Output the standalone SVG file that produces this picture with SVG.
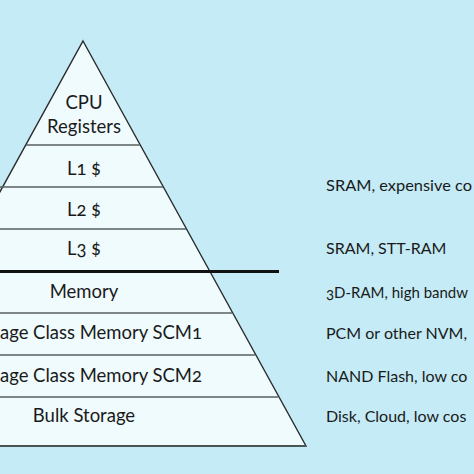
<svg xmlns="http://www.w3.org/2000/svg" width="474" height="474" viewBox="0 0 474 474">
<style>
  .bg { fill: #c4ebf6; }
  .pyr { fill: #effbfd; stroke: #2a2a2a; stroke-width: 1.4; }
  .sep { stroke: #5a5f60; stroke-width: 1.6; fill: none; }
  .thick { stroke: #111; stroke-width: 3; fill: none; }
  .base { stroke: #4a5555; stroke-width: 2.2; fill: none; }
  .lbl { font-family: Lato, "Open Sans", "Noto Sans", sans-serif; font-size: 18.5px; fill: #1a1a1a; text-anchor: middle; font-variant-numeric: oldstyle-nums; }
  .lbll { font-family: Lato, "Open Sans", "Noto Sans", sans-serif; font-size: 18.5px; fill: #1a1a1a; font-variant-numeric: oldstyle-nums; }
  .note { font-family: Lato, "Open Sans", "Noto Sans", sans-serif; font-size: 16px; fill: #1a1a1a; font-variant-numeric: oldstyle-nums; }
</style>
<rect class="bg" x="0" y="0" width="474" height="474"/>
<polygon class="pyr" points="83,41 306,446 -140,446"/>
<g id="cpu-registers">
  <text class="lbl" x="84" y="109">CPU</text>
  <text class="lbl" x="84" y="133">Registers</text>
</g>
<g id="l1">
  <line class="sep" x1="26" y1="145" x2="140" y2="145"/>
  <text class="lbl" x="84" y="175">L1 $</text>
</g>
<g id="l2">
  <line class="sep" x1="0" y1="187" x2="163" y2="187"/>
  <text class="lbl" x="84" y="216">L2 $</text>
</g>
<g id="l3">
  <line class="sep" x1="0" y1="229" x2="186" y2="229"/>
  <text class="lbl" x="84" y="255">L3 $</text>
</g>
<g id="memory">
  <text class="lbl" x="84" y="298">Memory</text>
</g>
<g id="scm1">
  <line class="sep" x1="0" y1="313" x2="232" y2="313"/>
  <text class="lbll" x="0" y="339" textLength="202" lengthAdjust="spacingAndGlyphs">age Class Memory SCM1</text>
</g>
<g id="scm2">
  <line class="sep" x1="0" y1="355" x2="255" y2="355"/>
  <text class="lbll" x="0" y="382" textLength="202" lengthAdjust="spacingAndGlyphs">age Class Memory SCM2</text>
</g>
<g id="bulk">
  <line class="sep" x1="0" y1="397" x2="278" y2="397"/>
  <text class="lbl" x="84" y="422">Bulk Storage</text>
  <line class="base" x1="0" y1="446" x2="306" y2="446"/>
</g>
<g id="connectors">
  <line class="thick" x1="0" y1="271.5" x2="279" y2="271.5"/>
</g>
<g id="notes">
  <text class="note" x="326" y="191" textLength="146" lengthAdjust="spacingAndGlyphs">SRAM, expensive co</text>
  <text class="note" x="326" y="254">SRAM, STT-RAM</text>
  <text class="note" x="326" y="298" textLength="142" lengthAdjust="spacingAndGlyphs">3D-RAM, high bandw</text>
  <text class="note" x="326" y="339">PCM or other NVM,</text>
  <text class="note" x="326" y="382">NAND Flash, low co</text>
  <text class="note" x="326" y="422">Disk, Cloud, low cos</text>
</g>
</svg>
